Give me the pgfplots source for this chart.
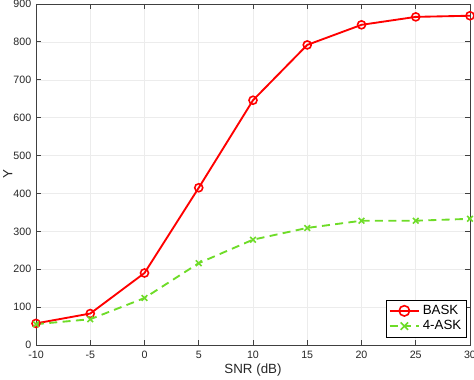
\documentclass[border=0pt]{standalone}
\usepackage{pgfplots}
\pgfplotsset{compat=1.18}
\usepackage{fontspec}
\setmainfont{Liberation Sans}
\definecolor{mgreen}{RGB}{110,220,40}
\begin{document}
\begin{tikzpicture}
\begin{axis}[name=ax,
  scale only axis,
  width=325.5pt, height=255.75pt,
  xmin=-10, xmax=30, ymin=0, ymax=900,
  xtick={-10,-5,...,30}, ytick={0,100,...,900},
  grid=major,
  major grid style={gray!15, line width=0.4pt},
  axis line style={black!75, line width=0.6pt},
  tick style={black!75, line width=0.6pt},
  tick align=inside,
  major tick length=4pt,
  ticklabel style={font=\fontsize{8}{9}\selectfont, text=black!85},
  xticklabel style={yshift=-1pt},
  /pgf/number format/assume math mode=true,
  xlabel={SNR (dB)}, ylabel={Y},
  label style={font=\fontsize{10}{12}\selectfont, text=black!85},
  xlabel style={yshift=3pt},
  ylabel style={yshift=-6pt},
  legend style={font=\fontsize{10}{12}\selectfont, draw=black, line width=0.5pt, inner sep=2pt, at={(0.993,0.022)}, anchor=south east, row sep=-1pt},
  legend image post style={scale=1.3},
  legend cell align=left,
]
\addplot[red, line width=1.4pt, mark=o, mark size=3pt, mark options={solid, line width=1.2pt}]
coordinates {(-10,57) (-5,83) (0,190) (5,415) (10,646) (15,792) (20,845) (25,866) (30,869)};
\addlegendentry{BASK}
\addplot[mgreen, line width=1.4pt, dash pattern=on 6pt off 4pt, mark=x, mark size=3pt, mark options={solid, line width=1.2pt}]
coordinates {(-10,55) (-5,68) (0,124) (5,216) (10,278) (15,309) (20,328) (25,328) (30,333)};
\addlegendentry{4-ASK}
\end{axis}
\pgfresetboundingbox
\path ([shift={(-27pt,-26.25pt)}]ax.south west) rectangle ([shift={(3pt,3pt)}]ax.north east);
\end{tikzpicture}
\end{document}
